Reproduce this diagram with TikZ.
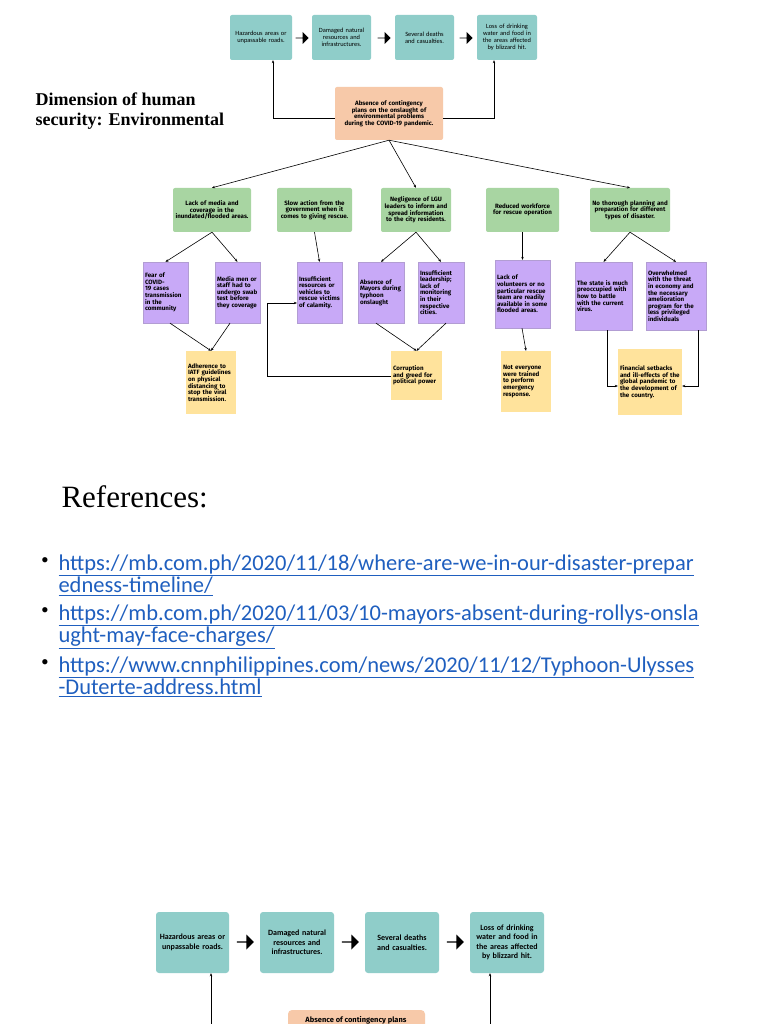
\documentclass[tikz,border=0pt]{standalone}
\usepackage{fontspec}
\setmainfont{Liberation Serif}
\newfontfamily\boxfont{Fira Sans}
\newfontfamily\calfont{Carlito}
\usetikzlibrary{arrows.meta,shapes.arrows}
\definecolor{teal1}{HTML}{8FCDC9}
\definecolor{green1}{HTML}{A8D5A2}
\definecolor{purp1}{HTML}{C8A9F7}
\definecolor{yell1}{HTML}{FFE39C}
\definecolor{oran1}{HTML}{F7C9A9}
\definecolor{link}{HTML}{1F5FBF}
\newcommand{\nohy}{\hyphenpenalty=10000 \tolerance=9999 \relax}
\tikzset{
 bx/.style={inner sep=1pt,align=center,font=\boxfont\bfseries\fontsize{6.2}{6.6}\selectfont,execute at begin node=\nohy},
 tealbox/.style={bx,fill=teal1,rounded corners=2pt,font=\calfont\fontsize{6.4}{7}\selectfont},
 greenbox/.style={bx,fill=green1,rounded corners=2pt},
 purpbox/.style={bx,fill=purp1,align=left,draw=purp1!70!gray,line width=0.3pt},
 yellbox/.style={bx,fill=yell1,align=left},
 oranbox/.style={bx,fill=oran1,rounded corners=2pt},
 con/.style={-{Stealth[length=3pt,width=2.5pt]},line width=0.6pt},
 blk/.style={single arrow,fill=black,minimum height=13pt,minimum width=12pt,single arrow head extend=2.5pt,inner sep=0pt},
 reftext/.style={anchor=north west,align=left,font=\calfont\fontsize{22.5}{20}\selectfont,text=link},
}
\newcommand{\rbox}[6]{\node[#1,minimum width=#4-#2,minimum height=#5-#3,text width=#4-#2-4] (#6) at ({(#2+#4)/2},{(#3+#5)/2})}
\begin{document}
\begin{tikzpicture}[x=1pt,y=-1pt]
\useasboundingbox (0,0) rectangle (768,1024);
\fill[white] (0,0) rectangle (768,1024);
% top row
\rbox{tealbox}{230}{15}{292}{60}{a}{Hazardous areas or unpassable roads.};
\rbox{tealbox}{312}{15}{371}{60}{b}{Damaged natural resources and infrastructures.};
\rbox{tealbox}{395}{15}{454}{60}{c}{Several deaths and casualties.};
\rbox{tealbox}{477}{15}{537}{60}{d}{Loss of drinking water and food in the areas affected by blizzard hit.};
\node[blk] (ar1) at (302,38) {};
\node[blk] (ar2) at (384,38) {};
\node[blk] (ar3) at (466,38) {};
\rbox{oranbox}{335}{87}{443}{140}{o}{Absence of contingency plans on the onslaught of environmental problems during the COVID-19 pandemic.};
\draw[con] (o.west|-0,118) -| (a.south-|273,0);
\draw[con] (o.east|-0,118) -| (d.south-|494,0);
\node[anchor=north west,align=left,font=\bfseries\fontsize{18}{20}\selectfont] (dim) at (32,89) {Dimension of human\\security: Environmental};
% green
\rbox{greenbox}{173}{188}{251}{232}{g1}{Lack of media and coverage in the inundated/flooded areas.};
\rbox{greenbox}{277}{188}{352}{232}{g2}{Slow action from the government when it comes to giving rescue.};
\rbox{greenbox}{381}{188}{451}{232}{g3}{Negligence of LGU leaders to inform and spread information to the city residents.};
\rbox{greenbox}{486}{188}{559}{232}{g4}{Reduced workforce for rescue operation};
\rbox{greenbox}{590}{188}{670}{232}{g5}{No thorough planning and preparation for different types of disaster.};
\draw[con] (o.south) -- (g1.north);
\draw[con] (o.south) -- (g3.north);
\draw[con] (o.south) -- (g5.north);
% purple
\rbox{purpbox}{143}{262}{188}{323}{p1}{Fear of COVID-19 cases transmission in the community};
\rbox{purpbox}{215}{262}{260}{323}{p2}{Media men or staff had to undergo swab test before they coverage};
\rbox{purpbox}{297}{262}{342}{323}{p3}{Insufficient resources or vehicles to rescue victims of calamity.};
\rbox{purpbox}{358}{262}{404}{323}{p4}{Absence of Mayors during typhoon onslaught};
\rbox{purpbox}{418}{262}{464}{323}{p5}{Insufficient leadership; lack of monitoring in their respective cities.};
\rbox{purpbox}{495}{260}{550}{328}{p6}{Lack of volunteers or no particular rescue team are readily available in some flooded areas.};
\rbox{purpbox}{575}{262}{632}{330}{p7}{The state is much preoccupied with how to battle with the current virus.};
\rbox{purpbox}{646}{262}{706}{330}{p8}{Overwhelmed with the threat in economy and the necessary amelioration program for the less privileged individuals};
\draw[con] (g1.south) -- (p1.north);
\draw[con] (g1.south) -- (p2.north);
\draw[con] (g2.south) -- (p3.north);
\draw[con] (g3.south) -- (p4.north);
\draw[con] (g3.south) -- (p5.north);
\draw[con] (g4.south) -- (p6.north-|g4.south);
\draw[con] (g5.south) -- (p7.north);
\draw[con] (g5.south) -- (p8.north);
% yellow
\rbox{yellbox}{186}{351}{236}{414}{y1}{Adherence to IATF guidelines on physical distancing to stop the viral transmission.};
\rbox{yellbox}{391}{351}{442}{400}{y2}{Corruption and greed for political power};
\rbox{yellbox}{501}{351}{551}{412}{y3}{Not everyone were trained to perform emergency response.};
\rbox{yellbox}{618}{349}{682}{415}{y4}{Financial setbacks and ill-effects of the global pandemic to the development of the country.};
\draw[con] (p1.south-|170,0) -- (y1.north);
\draw[con] (p2.south-|230,0) -- (y1.north);
\draw[con] (p4.south-|376,0) -- (y2.north);
\draw[con] (p5.south-|446,0) -- (y2.north);
\draw[con] (p6.south-|522,0) -- (y3.north-|526,0);
\draw[con] (y2.west|-0,376) -| (267,303) -- (p3.west|-0,303);
\draw[con] (p7.south-|607,0) |- (y4.west|-0,386);
\draw[con] (p8.south-|698,0) |- (y4.east|-0,386);
% references
\node[anchor=west,font=\fontsize{31}{32}\selectfont] (refs) at (58,497) {References:};
\node[font=\fontsize{22}{20}\selectfont] (b1) at (45,563) {•};
\node[font=\fontsize{22}{20}\selectfont] (b2) at (45,613) {•};
\node[font=\fontsize{22}{20}\selectfont] (b3) at (45,665) {•};
\node[reftext] (r1) at (55,551) {\underline{https://mb.com.ph/2020/11/18/where-are-we-in-our-disaster-prepar}\\\underline{edness-timeline/}};
\node[reftext] (r2) at (55,601) {\underline{https://mb.com.ph/2020/11/03/10-mayors-absent-during-rollys-onsla}\\\underline{ught-may-face-charges/}};
\node[reftext] (r3) at (55,653) {\underline{https://www.cnnphilippines.com/news/2020/11/12/Typhoon-Ulysses}\\\underline{-Duterte-address.html}};
% bottom copy
\tikzset{tealbig/.style={tealbox,rounded corners=3pt,font=\calfont\bfseries\fontsize{8}{9.5}\selectfont}}
\rbox{tealbig}{156}{912}{229}{973}{ba}{Hazardous areas or unpassable roads.};
\rbox{tealbig}{260}{912}{334}{973}{bb}{Damaged natural resources and infrastructures.};
\rbox{tealbig}{365}{912}{439}{973}{bc}{Several deaths and casualties.};
\rbox{tealbig}{470}{912}{544}{973}{bd}{Loss of drinking water and food in the areas affected by blizzard hit.};
\node[blk,minimum height=17pt,minimum width=15pt] (bar1) at (245,942) {};
\node[blk,minimum height=17pt,minimum width=15pt] (bar2) at (350,942) {};
\node[blk,minimum height=17pt,minimum width=15pt] (bar3) at (455,942) {};
\fill[oran1,rounded corners=4pt] (288,1010) rectangle (425,1040);
\node[font=\boxfont\bfseries\fontsize{7.5}{8}\selectfont,anchor=north] (bo) at (356,1013) {Absence of contingency plans};
\coordinate (e1) at (211,1024);
\coordinate (e2) at (490,1024);
\draw[con] (e1) -- (ba.south-|e1);
\draw[con] (e2) -- (bd.south-|e2);
\end{tikzpicture}
\end{document}
